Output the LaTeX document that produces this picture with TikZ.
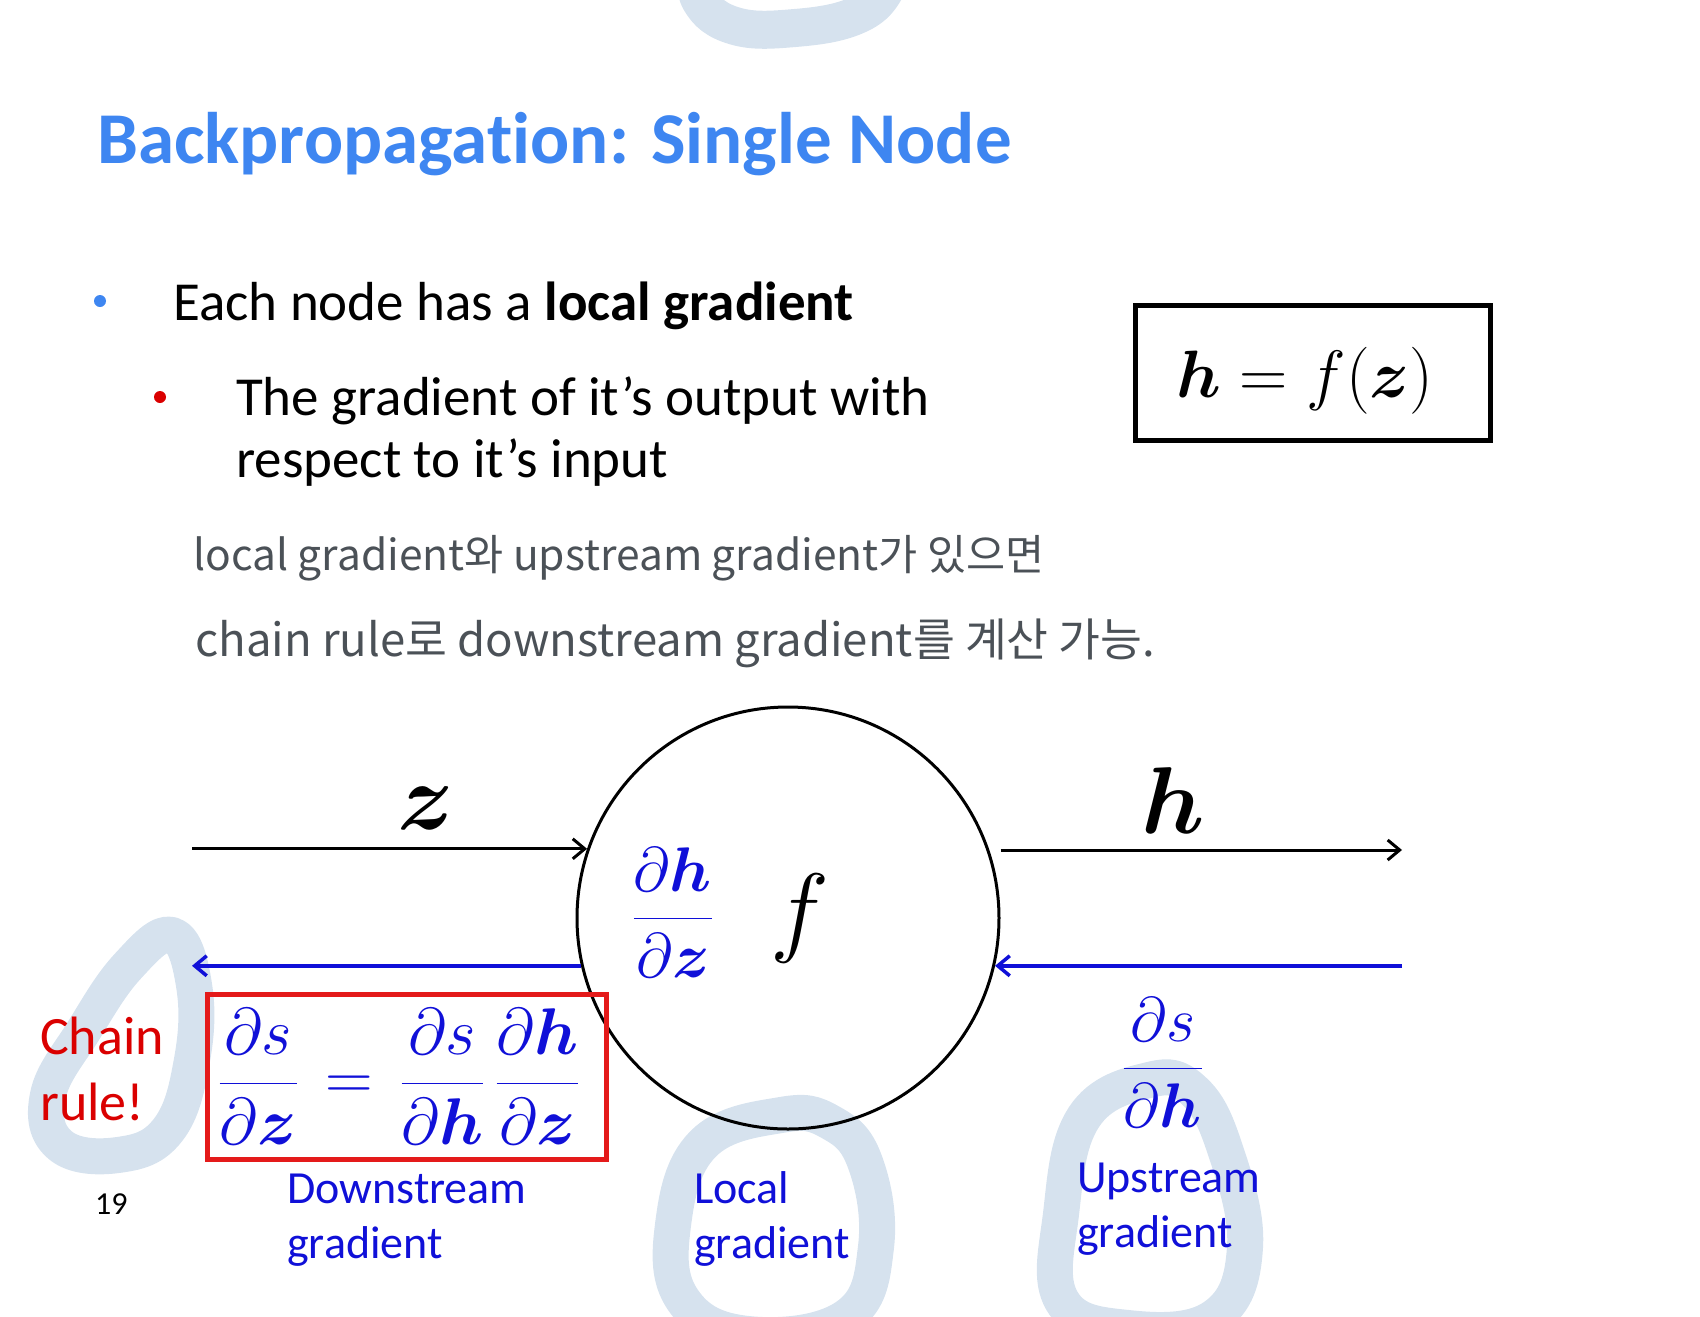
\RequirePackage{fix-cm}
\documentclass[tikz,border=0pt]{standalone}
\usepackage{amsmath}
\usepackage[no-math]{fontspec}
\setmainfont{Carlito}[Ligatures=NoCommon]
\newfontfamily\handfont{Noto Sans CJK KR}
\usetikzlibrary{arrows.meta,positioning}
\definecolor{TitleBlue}{HTML}{3E86F1}
\definecolor{GradBlue}{HTML}{1010D8}
\definecolor{RuleRed}{HTML}{DA0000}
\definecolor{BoxRed}{HTML}{E41A1A}
\definecolor{Marker}{HTML}{D6E2EE}
\definecolor{Pencil}{HTML}{4B5157}
\newcommand{\setfs}[2]{\fontsize{#1}{#2}\selectfont}

\begin{document}
\begin{tikzpicture}[x=1pt, y=-1pt, every node/.style={inner sep=0pt},
  txt/.style={anchor=base west, font=\setfs{55}{62}},
  marker/.style={Marker, line width=36pt, line cap=round, line join=round},
  fwd/.style={-{Straight Barb[length=12pt,width=20pt]}, line width=3pt},
  bwd/.style={fwd, GradBlue, line width=3.5pt},
  grad/.style={text=GradBlue, font=\setfs{63}{70}},
  lbl/.style={text=GradBlue, font=\setfs{46}{55}, align=left, anchor=base west}]
  \useasboundingbox (0,0) rectangle (1700,1317);
  \clip (0,0) rectangle (1700,1317);

  % highlighter loops
  \draw[marker, line width=38pt] plot[smooth, tension=0.7] coordinates {(697,-40) (700,0) (735,26) (795,28) (855,16) (885,-10) (888,-40)};
  \draw[marker] plot[smooth cycle, tension=0.7] coordinates {(172,935) (128,966) (84,1030) (48,1095) (60,1145) (118,1155) (168,1130) (192,1060) (194,985)};
  \draw[marker] plot[smooth cycle, tension=0.7] coordinates {(781,1115) (703,1144) (673,1225) (683,1300) (748,1334) (846,1317) (876,1247) (865,1162) (830,1122)};
  \draw[marker] plot[smooth cycle, tension=0.7] coordinates {(1149,1080) (1084,1117) (1061,1214) (1062,1301) (1128,1328) (1214,1317) (1245,1247) (1225,1149) (1193,1090)};

  \node[anchor=base west, font=\setfs{73}{88}\bfseries, text=TitleBlue] (title) at (97,163) {Backpropagation: Single Node};

  \node[circle, fill=TitleBlue, minimum size=12pt] (dot1) at (100,301) {};
  \node[txt] (item1) at (173,320) {Each node has a \textbf{local gradient}};
  \node[circle, fill=RuleRed, minimum size=12pt] (dot2) at (160,397) {};
  \node[txt, align=left] (item2) at (236,477) {The gradient of it’s output with\\respect to it’s input};

  \node[draw, line width=4.5pt, minimum width=355pt, minimum height=135pt, font=\setfs{67}{74}] (defbox) at (1313,373)
    {\raisebox{-24pt}[0pt][0pt]{$\boldsymbol h=f(\boldsymbol z)$}\kern16pt};

  \node[anchor=base west, font=\handfont\setfs{42.5}{48}, text=Pencil] (note1) at (193,570) {local gradient와 upstream gradient가 있으면};
  \node[anchor=base west, font=\handfont\setfs{45.5}{50}, text=Pencil] (note2) at (195,656) {chain rule로 downstream gradient를 계산 가능.};

  % the node
  \node[draw, circle, line width=3pt, minimum size=422pt] (fnode) at (788,918) {};
  \node[font=\setfs{100}{110}] (fsym) at (800,918) {$f$};
  \node[grad, anchor=base] (local) at (673,934) {$\displaystyle\frac{\partial\boldsymbol h}{\partial\boldsymbol z}$};

  \coordinate (zstart) at (192,850);
  \coordinate (hend) at (1402,850);
  \coordinate (dsend) at (192,967);
  \coordinate (usstart) at (1402,967);
  \draw[fwd] (zstart |- fnode.161) -- (fnode.161);
  \draw[fwd] (fnode.east |- hend) -- (hend);
  \draw[bwd] (usstart |- fnode.-13) -- (fnode.-13);
  \draw[bwd] (fnode.193) -- (dsend |- fnode.193);
  \node[font=\setfs{95}{100}] (zlab) at (426,808) {$\boldsymbol z$};
  \node[font=\setfs{95}{100}] (hlab) at (1173,801) {$\boldsymbol h$};

  \node[grad, draw=BoxRed, line width=4.5pt, minimum width=399pt, minimum height=165pt, font=\setfs{66}{72}] (chain) at (407,1077)
    {$\displaystyle\frac{\partial s}{\partial\boldsymbol z}\mkern2.5mu=\mkern2.5mu\frac{\partial s}{\partial\boldsymbol h}\,\frac{\partial\boldsymbol h}{\partial\boldsymbol z}$\kern16pt};
  \node[grad, anchor=base] (upstream) at (1163,1084) {$\displaystyle\frac{\partial s}{\partial\boldsymbol h}$};

  \node[anchor=base west, align=left, font=\setfs{54}{66}, text=RuleRed] (rulelab) at (40,1120) {Chain\\rule!};
  \node[lbl] (downlab) at (287,1258) {Downstream\\gradient};
  \node[lbl] (locallab) at (694,1258) {Local\\gradient};
  \node[lbl] (uplab) at (1077,1247) {Upstream\\gradient};
  \node[anchor=base west, font=\setfs{32}{38}] (pagenum) at (95,1214) {19};
\end{tikzpicture}
\end{document}
